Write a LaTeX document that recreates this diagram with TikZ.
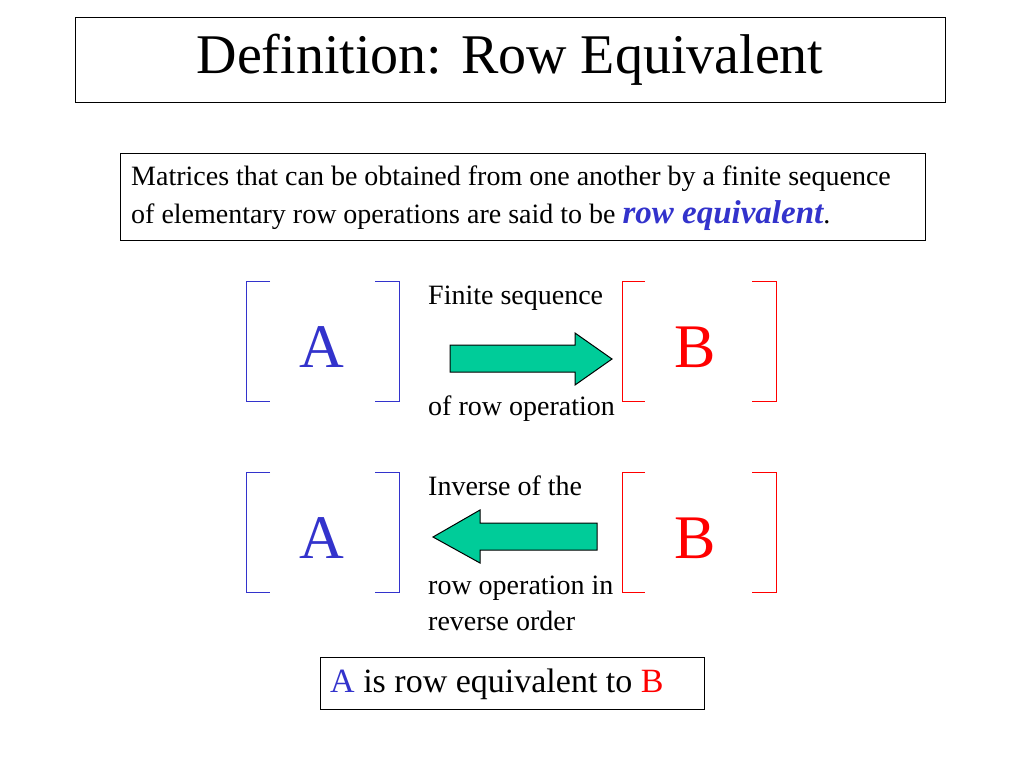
\documentclass[tikz,border=0pt]{standalone}
\usepackage{fontspec}
\setmainfont{Liberation Serif}
\begin{document}
\begin{tikzpicture}[x=1pt,y=-1pt,
  box/.style={draw=black,line width=0.8pt},
  lbl/.style={anchor=west,inner sep=0pt,font=\fontsize{28}{32}\selectfont},
  big/.style={inner sep=0pt,font=\fontsize{62}{66}\selectfont},
  arr/.style={draw=black,line width=1pt,fill={rgb,255:red,0;green,204;blue,153}}]
\definecolor{ablue}{RGB}{51,51,204}
\definecolor{bred}{RGB}{255,0,0}
\useasboundingbox (0,0) rectangle (1024,768);
\draw[box] (75,17) rectangle (945,102);
\node[inner sep=0pt,font=\fontsize{56}{60}\selectfont] (title) at (510,60) {Definition: Row Equivalent};
\draw[box] (120,153) rectangle (925,240);
\node[inner sep=0pt,anchor=west,align=left,font=\fontsize{28}{38}\selectfont] (def) at (131,198)
 {Matrices that can be obtained from one another by a finite sequence\\of elementary row operations are said to be {\color{ablue}\bfseries\itshape\fontsize{33}{38}\selectfont row equivalent}.};
\foreach \y/\n in {281/1,472/2}{
 \draw[ablue,line width=0.8pt] (270,\y) -- (246,\y) -- (246,\y+120) -- (270,\y+120);
 \draw[ablue,line width=0.8pt] (375,\y) -- (399,\y) -- (399,\y+120) -- (375,\y+120);
 \draw[bred,line width=0.8pt] (645,\y) -- (622,\y) -- (622,\y+120) -- (645,\y+120);
 \draw[bred,line width=0.8pt] (752,\y) -- (776,\y) -- (776,\y+120) -- (752,\y+120);
 \node[big,text=ablue] (A\n) at (322,\y+66) {A};
 \node[big,text=bred] (B\n) at (695,\y+66) {B};
}
\draw[arr] (450,345) -- (575,345) -- (575,333) -- (612,359) -- (575,385) -- (575,372) -- (450,372) -- cycle;
\draw[arr] (597,523) -- (480,523) -- (480,510) -- (433,537) -- (480,563) -- (480,550) -- (597,550) -- cycle;
\node[lbl] (l1) at (428,298) {Finite sequence};
\node[lbl] (l2) at (428,409) {of row operation};
\node[lbl] (l3) at (428,486) {Inverse of the};
\node[lbl] (l4) at (428,588) {row operation in};
\node[lbl] (l5) at (428,621) {reverse order};
\draw[box] (320,657) rectangle (704,709);
\node[inner sep=0pt,anchor=west,font=\fontsize{34}{38}\selectfont] (concl) at (330,684) {{\color{ablue}A} is row equivalent to {\color{bred}B}};
\end{tikzpicture}
\end{document}
